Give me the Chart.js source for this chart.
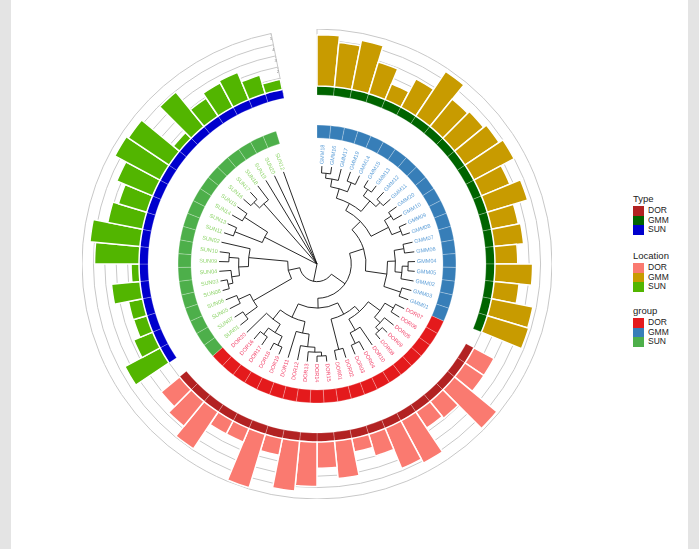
<!DOCTYPE html>
<html>
<head>
<meta charset="utf-8">
<script src="https://cdn.jsdelivr.net/npm/chart.js@4"></script>
<style>
  body { margin: 0; background: #e4e4e4; font-family: "Liberation Sans", Arial, sans-serif; }
  #page { position: absolute; left: 11px; top: 0; width: 677px; height: 549px; background: #fff; }
  #wrap { position: absolute; left: 82px; top: 29px; width: 470px; height: 470px; }
  .lg { position: absolute; left: 633px; font-size: 8.5px; color: #222; }
  .lg .t { font-size: 9.5px; margin-bottom: 2px; }
  .lg .i { height: 9.6px; line-height: 9.6px; }
  .lg .i span { display: inline-block; width: 11px; height: 9.6px; vertical-align: top; margin-right: 4px; }
</style>
</head>
<body>
<div id="page"></div>
<div id="wrap"><canvas id="c" width="470" height="470"></canvas></div>
<div id="legends"></div>
<script>
// categories and colours
const groups = ['DOR', 'GMM', 'SUN'];
const typeColors = { DOR: '#B22222', GMM: '#006400', SUN: '#0000CD' };
const locationColors = { DOR: '#FA7A70', GMM: '#C89B00', SUN: '#52B500' };
const groupColors = { DOR: '#E41A1C', GMM: '#377EB8', SUN: '#4DAF4A' };
const labelColors = { DOR: '#F2446A', GMM: '#5E9FD8', SUN: '#8ED46A' };

// leaf order, clockwise from the gap
const gmmLeaves = ['GMM18','GMM16','GMM17','GMM19','GMM14','GMM15','GMM13','GMM12','GMM11','GMM20',
  'GMM10','GMM09','GMM08','GMM07','GMM06','GMM04','GMM05','GMM02','GMM03','GMM01'];
const dorLeaves = ['DOR07','DOR06','DOR05','DOR09','DOR08','DOR10','DOR04','DOR03','DOR02','DOR01',
  'DOR15','DOR14','DOR13','DOR12','DOR11','DOR19','DOR18','DOR17','DOR16','DOR20'];
const sunLeaves = ['SUN01','SUN07','SUN05','SUN06','SUN08','SUN03','SUN04','SUN09','SUN10','SUN02',
  'SUN11','SUN13','SUN14','SUN15','SUN16','SUN17','SUN18','SUN19','SUN20','SUN12'];

// bar values (outer ring), clockwise
const gmmValues = [4.5,3.9,4.4,2.9,1.5,2.8,4.7,3.1,3.3,3.6,4.0,2.7,3.7,2.4,2.6,2.0,3.3,2.2,3.7,3.8];
const dorValues = [2.0,2.0,4.8,1.9,1.7,4.2,3.8,2.0,1.2,3.3,2.3,3.9,4.4,1.5,4.9,1.3,1.3,3.9,2.8,2.1];
const sunValues = [3.5,1.8,1.2,1.25,2.5,0.7,3.9,4.4,3.1,2.6,3.4,4.5,4.3,0.7,3.9,1.9,2.4,2.6,1.7,0.9];
const axisTicks = [0, 1, 2, 3, 4, 5];

// dendrogram: [child, child, ..., nodeHeight]; leaves are indices into the leaf order
const gA = [[[0,1,.93],2,.88],[3,4,.9],.8];
const gB = [[5,6,.92],[7,8,.9],.84];
const gC = [[9,10,.9],[11,12,.92],.82];
const gD = [[13,14,.9],[[15,16,.93],17,.87],.8];
const gmmTree = [[[gA,gB,.7],gC,.62],[gD,[18,19,.9],.72],.5];
const dA = [[20,21,.9],[22,[23,24,.93],.88],.8];
const dB = [25,[26,27,.9],.78];
const dC = [[[[30,31,.94],32,.9],33,.85],34,.72];
const dD = [[[35,36,.92],[37,38,.9],.82],39,.72];
const dorTree = [[[dA,dB,.65],[28,29,.9],.58],[dC,dD,.6],.45];
const sA = [[40,41,.9],[42,43,.88],.75];
const sB = [[[[44,45,.93],46,.88],[47,48,.9],.8],49,.7];
const sC = [[50,51,.9],[52,53,.88],.6];
const sD = [[54,55,.9],56,.82];
const fullTree = [[[gmmTree,dorTree,.35],[sA,sB,.3],.18], sC, sD, 57, 58, 59, 0];

// ring layouts
const leaves = [...gmmLeaves, ...dorLeaves, ...sunLeaves];
const leafGroup = [...gmmLeaves.map(() => 'GMM'), ...dorLeaves.map(() => 'DOR'), ...sunLeaves.map(() => 'SUN')];
const outerGroup = [...gmmLeaves.map(() => 'GMM'), null, ...dorLeaves.map(() => 'DOR'), null,
  ...sunLeaves.map(() => 'SUN'), null, null];
const outerValues = [...gmmValues, 0, ...dorValues, 0, ...sunValues, 0, 0];
const innerGroup = [...leafGroup, null, null, null];

const R_MIN = -15.6, R_MAX = 5;
const TYPE_OUT = 0, TYPE_IN = -0.79, GROUP_OUT = -3.42, GROUP_IN = -4.56;
const LEAF_R = 98;

const ringPlugin = {
  id: 'ringPlugin',
  afterDatasetsUpdate(chart) {
    const scale = chart.scales.r;
    chart.data.datasets.forEach((ds, i) => {
      if (ds.innerValue === undefined) return;
      const ir = scale.getDistanceFromCenterForValue(ds.innerValue);
      chart.getDatasetMeta(i).data.forEach(el => { el.innerRadius = ir; });
    });
  },
  beforeDatasetsDraw(chart) {
    // grid arcs and the axis in the gap
    const ctx = chart.ctx, scale = chart.scales.r;
    const cx = scale.xCenter, cy = scale.yCenter;
    const outer = chart.getDatasetMeta(0).data;
    const a0 = outer[0].startAngle, a1 = outer[61].endAngle;
    ctx.save();
    ctx.strokeStyle = '#c8c8c8';
    ctx.lineWidth = 1;
    axisTicks.forEach(v => {
      ctx.beginPath();
      ctx.arc(cx, cy, scale.getDistanceFromCenterForValue(v), a0, a1);
      ctx.stroke();
    });
    const rA = scale.getDistanceFromCenterForValue(axisTicks[0]);
    const rB = scale.getDistanceFromCenterForValue(axisTicks[axisTicks.length - 1]);
    [a0, a1].forEach(a => {
      ctx.beginPath();
      ctx.moveTo(cx + rA * Math.cos(a), cy + rA * Math.sin(a));
      ctx.lineTo(cx + rB * Math.cos(a), cy + rB * Math.sin(a));
      ctx.stroke();
    });
    ctx.fillStyle = '#8a8a8a';
    ctx.font = '4px "Liberation Sans"';
    ctx.textAlign = 'center';
    axisTicks.forEach(v => {
      const r = scale.getDistanceFromCenterForValue(v);
      const x = cx + r * Math.cos(a1), y = cy + r * Math.sin(a1);
      ctx.beginPath(); ctx.moveTo(x, y); ctx.lineTo(x, y + 2); ctx.stroke();
      ctx.fillText(String(v), x, y + 6);
    });
    ctx.restore();
  },
  afterDatasetsDraw(chart) {
    const ctx = chart.ctx, scale = chart.scales.r;
    const cx = scale.xCenter, cy = scale.yCenter;
    const inner = chart.getDatasetMeta(2).data;
    const leafAngle = i => (inner[i].startAngle + inner[i].endAngle) / 2;
    const pt = (r, a) => [cx + r * Math.cos(a), cy + r * Math.sin(a)];
    ctx.save();
    ctx.strokeStyle = '#111';
    ctx.lineWidth = 0.9;
    // returns [angle, radius] of a node
    function drawNode(node) {
      if (typeof node === 'number') return [leafAngle(node), LEAF_R];
      const h = node[node.length - 1] * LEAF_R;
      const kids = node.slice(0, -1).map(drawNode);
      const angs = kids.map(k => k[0]);
      const amin = Math.min(...angs), amax = Math.max(...angs);
      kids.forEach(([a, r]) => {
        const p = pt(h, a), q = pt(r, a);
        ctx.beginPath(); ctx.moveTo(p[0], p[1]); ctx.lineTo(q[0], q[1]); ctx.stroke();
      });
      if (h > 0) { ctx.beginPath(); ctx.arc(cx, cy, h, amin, amax); ctx.stroke(); }
      return [(amin + amax) / 2, h];
    }
    drawNode(fullTree);
    // leaf labels
    ctx.font = '5.5px "Liberation Sans"';
    ctx.textBaseline = 'middle';
    leaves.forEach((name, i) => {
      const a = leafAngle(i);
      const left = Math.cos(a) < 0;
      ctx.save();
      ctx.translate(cx, cy);
      ctx.rotate(left ? a + Math.PI : a);
      ctx.fillStyle = labelColors[leafGroup[i]];
      if (left) { ctx.textAlign = 'right'; ctx.fillText(name, -(LEAF_R + 2), 0); }
      else { ctx.textAlign = 'left'; ctx.fillText(name, LEAF_R + 2, 0); }
      ctx.restore();
    });
    ctx.restore();
  }
};

new Chart(document.getElementById('c'), {
  type: 'polarArea',
  data: {
    labels: outerGroup.map((g, i) => String(i)),
    datasets: [
      {
        data: outerValues,
        innerValue: 0,
        backgroundColor: outerGroup.map(g => g ? locationColors[g] : 'rgba(0,0,0,0)'),
        borderColor: '#fff',
        borderWidth: outerGroup.map(g => g ? 1.5 : 0)
      },
      {
        data: outerGroup.map(() => TYPE_OUT),
        innerValue: TYPE_IN,
        backgroundColor: outerGroup.map(g => g ? typeColors[g] : 'rgba(0,0,0,0)'),
        borderColor: 'rgba(255,255,255,0.3)',
        borderWidth: outerGroup.map(g => g ? 0.8 : 0)
      },
      {
        data: innerGroup.map(() => GROUP_OUT),
        innerValue: GROUP_IN,
        backgroundColor: innerGroup.map(g => g ? groupColors[g] : 'rgba(0,0,0,0)'),
        borderColor: 'rgba(255,255,255,0.3)',
        borderWidth: innerGroup.map(g => g ? 0.8 : 0)
      }
    ]
  },
  options: {
    responsive: false,
    animation: false,
    events: [],
    startAngle: 97,
    layout: { padding: 0 },
    plugins: { legend: { display: false }, tooltip: { enabled: false } },
    scales: {
      r: {
        min: R_MIN, max: R_MAX,
        ticks: { display: false },
        grid: { display: false },
        angleLines: { display: false },
        pointLabels: { display: false }
      }
    }
  },
  plugins: [ringPlugin]
});

// legends
const legendBlocks = [['Type', typeColors, 193], ['Location', locationColors, 250], ['group', groupColors, 305]];
const host = document.getElementById('legends');
legendBlocks.forEach(([title, colors, top]) => {
  const d = document.createElement('div');
  d.className = 'lg';
  d.style.top = top + 'px';
  d.innerHTML = '<div class="t">' + title + '</div>' +
    groups.map(g => '<div class="i"><span style="background:' + colors[g] + '"></span>' + g + '</div>').join('');
  host.appendChild(d);
});
</script>
</body>
</html>
